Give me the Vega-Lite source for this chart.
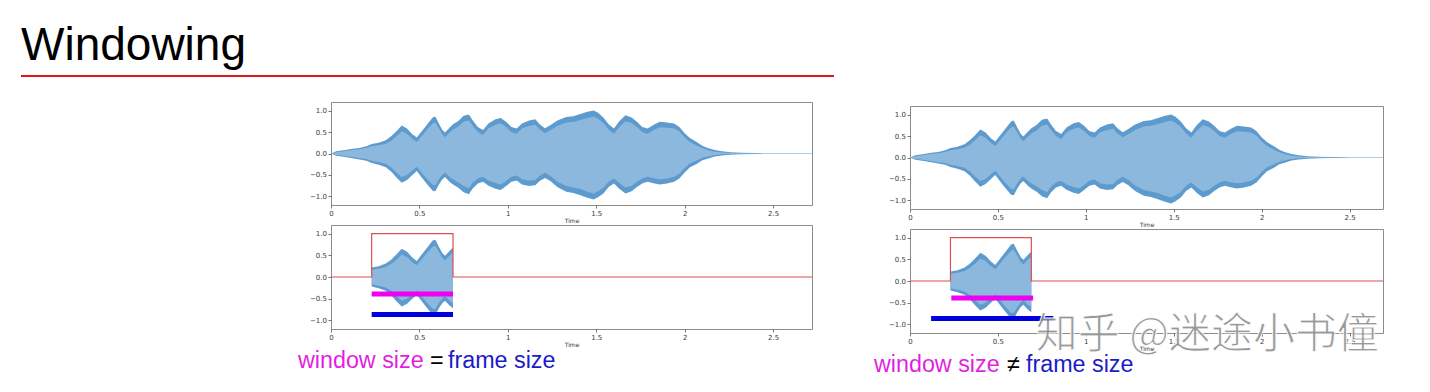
{
  "$schema": "https://vega.github.io/schema/vega-lite/v6.json",
  "padding": {"left": 20, "top": 16, "right": 10, "bottom": 5},
  "background": "white",
  "datasets": {
    "env": [
      {"t":0,"hi":0,"lo":0,"hi2":0,"lo2":0},
      {"t":0.03,"hi":0.05,"lo":-0.05,"hi2":0.03,"lo2":-0.03},
      {"t":0.08,"hi":0.08,"lo":-0.08,"hi2":0.06,"lo2":-0.06},
      {"t":0.12,"hi":0.11,"lo":-0.11,"hi2":0.08,"lo2":-0.08},
      {"t":0.16,"hi":0.13,"lo":-0.14,"hi2":0.10,"lo2":-0.11},
      {"t":0.20,"hi":0.17,"lo":-0.17,"hi2":0.13,"lo2":-0.13},
      {"t":0.23,"hi":0.22,"lo":-0.22,"hi2":0.17,"lo2":-0.17},
      {"t":0.27,"hi":0.25,"lo":-0.26,"hi2":0.19,"lo2":-0.20},
      {"t":0.31,"hi":0.31,"lo":-0.32,"hi2":0.23,"lo2":-0.24},
      {"t":0.34,"hi":0.40,"lo":-0.42,"hi2":0.30,"lo2":-0.32},
      {"t":0.37,"hi":0.52,"lo":-0.56,"hi2":0.40,"lo2":-0.44},
      {"t":0.40,"hi":0.65,"lo":-0.68,"hi2":0.52,"lo2":-0.55},
      {"t":0.43,"hi":0.58,"lo":-0.62,"hi2":0.46,"lo2":-0.50},
      {"t":0.46,"hi":0.45,"lo":-0.50,"hi2":0.34,"lo2":-0.39},
      {"t":0.485,"hi":0.37,"lo":-0.41,"hi2":0.27,"lo2":-0.31},
      {"t":0.51,"hi":0.50,"lo":-0.54,"hi2":0.39,"lo2":-0.43},
      {"t":0.54,"hi":0.66,"lo":-0.70,"hi2":0.54,"lo2":-0.58},
      {"t":0.575,"hi":0.84,"lo":-0.87,"hi2":0.70,"lo2":-0.73},
      {"t":0.59,"hi":0.86,"lo":-0.88,"hi2":0.72,"lo2":-0.74},
      {"t":0.61,"hi":0.70,"lo":-0.72,"hi2":0.58,"lo2":-0.60},
      {"t":0.63,"hi":0.55,"lo":-0.60,"hi2":0.44,"lo2":-0.49},
      {"t":0.645,"hi":0.49,"lo":-0.55,"hi2":0.38,"lo2":-0.44},
      {"t":0.67,"hi":0.60,"lo":-0.66,"hi2":0.49,"lo2":-0.55},
      {"t":0.69,"hi":0.68,"lo":-0.72,"hi2":0.56,"lo2":-0.60},
      {"t":0.72,"hi":0.76,"lo":-0.80,"hi2":0.63,"lo2":-0.67},
      {"t":0.75,"hi":0.88,"lo":-0.90,"hi2":0.74,"lo2":-0.76},
      {"t":0.78,"hi":0.91,"lo":-0.95,"hi2":0.77,"lo2":-0.81},
      {"t":0.80,"hi":0.78,"lo":-0.82,"hi2":0.65,"lo2":-0.69},
      {"t":0.83,"hi":0.62,"lo":-0.70,"hi2":0.50,"lo2":-0.58},
      {"t":0.86,"hi":0.55,"lo":-0.66,"hi2":0.43,"lo2":-0.54},
      {"t":0.89,"hi":0.70,"lo":-0.75,"hi2":0.58,"lo2":-0.63},
      {"t":0.93,"hi":0.80,"lo":-0.82,"hi2":0.67,"lo2":-0.69},
      {"t":0.96,"hi":0.83,"lo":-0.85,"hi2":0.70,"lo2":-0.72},
      {"t":0.99,"hi":0.74,"lo":-0.76,"hi2":0.62,"lo2":-0.64},
      {"t":1.02,"hi":0.62,"lo":-0.66,"hi2":0.50,"lo2":-0.54},
      {"t":1.05,"hi":0.58,"lo":-0.63,"hi2":0.46,"lo2":-0.51},
      {"t":1.08,"hi":0.70,"lo":-0.72,"hi2":0.58,"lo2":-0.60},
      {"t":1.12,"hi":0.77,"lo":-0.76,"hi2":0.64,"lo2":-0.63},
      {"t":1.155,"hi":0.80,"lo":-0.74,"hi2":0.67,"lo2":-0.62},
      {"t":1.18,"hi":0.68,"lo":-0.64,"hi2":0.56,"lo2":-0.52},
      {"t":1.21,"hi":0.59,"lo":-0.57,"hi2":0.47,"lo2":-0.45},
      {"t":1.24,"hi":0.66,"lo":-0.64,"hi2":0.54,"lo2":-0.52},
      {"t":1.28,"hi":0.77,"lo":-0.78,"hi2":0.64,"lo2":-0.65},
      {"t":1.33,"hi":0.85,"lo":-0.89,"hi2":0.72,"lo2":-0.76},
      {"t":1.37,"hi":0.87,"lo":-0.92,"hi2":0.74,"lo2":-0.79},
      {"t":1.41,"hi":0.92,"lo":-0.97,"hi2":0.78,"lo2":-0.83},
      {"t":1.45,"hi":0.97,"lo":-1.03,"hi2":0.83,"lo2":-0.89},
      {"t":1.485,"hi":1.00,"lo":-1.07,"hi2":0.86,"lo2":-0.93},
      {"t":1.51,"hi":0.95,"lo":-1.02,"hi2":0.81,"lo2":-0.88},
      {"t":1.54,"hi":0.84,"lo":-0.93,"hi2":0.71,"lo2":-0.80},
      {"t":1.57,"hi":0.68,"lo":-0.78,"hi2":0.56,"lo2":-0.66},
      {"t":1.60,"hi":0.58,"lo":-0.70,"hi2":0.46,"lo2":-0.58},
      {"t":1.63,"hi":0.75,"lo":-0.82,"hi2":0.62,"lo2":-0.69},
      {"t":1.665,"hi":0.89,"lo":-0.93,"hi2":0.75,"lo2":-0.79},
      {"t":1.70,"hi":0.84,"lo":-0.88,"hi2":0.71,"lo2":-0.75},
      {"t":1.73,"hi":0.74,"lo":-0.78,"hi2":0.62,"lo2":-0.66},
      {"t":1.76,"hi":0.62,"lo":-0.70,"hi2":0.50,"lo2":-0.58},
      {"t":1.79,"hi":0.58,"lo":-0.66,"hi2":0.46,"lo2":-0.54},
      {"t":1.83,"hi":0.68,"lo":-0.70,"hi2":0.56,"lo2":-0.58},
      {"t":1.86,"hi":0.74,"lo":-0.72,"hi2":0.61,"lo2":-0.60},
      {"t":1.90,"hi":0.72,"lo":-0.70,"hi2":0.60,"lo2":-0.58},
      {"t":1.94,"hi":0.70,"lo":-0.66,"hi2":0.58,"lo2":-0.54},
      {"t":1.97,"hi":0.62,"lo":-0.58,"hi2":0.51,"lo2":-0.47},
      {"t":2.00,"hi":0.47,"lo":-0.44,"hi2":0.37,"lo2":-0.34},
      {"t":2.03,"hi":0.36,"lo":-0.32,"hi2":0.27,"lo2":-0.23},
      {"t":2.07,"hi":0.26,"lo":-0.24,"hi2":0.18,"lo2":-0.16},
      {"t":2.10,"hi":0.18,"lo":-0.16,"hi2":0.12,"lo2":-0.10},
      {"t":2.13,"hi":0.13,"lo":-0.12,"hi2":0.08,"lo2":-0.07},
      {"t":2.17,"hi":0.08,"lo":-0.07,"hi2":0.04,"lo2":-0.035},
      {"t":2.21,"hi":0.05,"lo":-0.045,"hi2":0.025,"lo2":-0.02},
      {"t":2.26,"hi":0.03,"lo":-0.03,"hi2":0.012,"lo2":-0.012},
      {"t":2.32,"hi":0.018,"lo":-0.018,"hi2":0.006,"lo2":-0.006},
      {"t":2.40,"hi":0.01,"lo":-0.01,"hi2":0.003,"lo2":-0.003},
      {"t":2.50,"hi":0.006,"lo":-0.006,"hi2":0,"lo2":0},
      {"t":2.60,"hi":0.004,"lo":-0.004,"hi2":0,"lo2":0},
      {"t":2.72,"hi":0.003,"lo":-0.003,"hi2":0,"lo2":0}
    ],
    "win": [
      {"i":0,"t":0,"w":0},
      {"i":1,"t":0.23,"w":0},
      {"i":2,"t":0.23,"w":1},
      {"i":3,"t":0.69,"w":1},
      {"i":4,"t":0.69,"w":0},
      {"i":5,"t":2.72,"w":0}
    ],
    "barsL": [
      {"t":0.23,"t2":0.69,"v":-0.39,"kind":"window"},
      {"t":0.23,"t2":0.69,"v":-0.865,"kind":"frame"}
    ],
    "barsR": [
      {"t":0.235,"t2":0.70,"v":-0.395,"kind":"window"},
      {"t":0.12,"t2":0.815,"v":-0.865,"kind":"frame"}
    ]
  },
  "spacing": 24,
  "vconcat": [
    {
      "width": 813,
      "height": 60,
      "view": {"stroke": null},
      "layer": [
        {
          "data": {"values": [{"s": "Windowing"}]},
          "mark": {"type": "text", "align": "left", "baseline": "alphabetic", "dy": -16, "font": "Liberation Sans", "fontSize": 46, "color": "#000000"},
          "encoding": {
            "text": {"field": "s"},
            "x": {"datum": 0, "type": "quantitative", "scale": {"domain": [0, 1]}, "axis": null},
            "y": {"datum": 0, "type": "quantitative", "scale": {"domain": [0, 1]}, "axis": null}
          }
        },
        {
          "data": {"values": [{}]},
          "mark": {"type": "rule", "color": "#e0161e", "strokeWidth": 2},
          "encoding": {
            "x": {"datum": 0, "type": "quantitative"},
            "x2": {"datum": 1},
            "y": {"datum": 0, "type": "quantitative"}
          }
        }
      ]
    },
    {
      "spacing": 56,
      "hconcat": [
        {
          "width": 213,
          "height": 1,
          "view": {"stroke": null},
          "data": {"values": []},
          "mark": "rule",
          "encoding": {}
        },
        {
          "spacing": 0,
          "vconcat": [
            {
              "width": 481,
              "height": 103,
              "data": {"name": "env"},
              "layer": [
                {
                  "mark": {"type": "area", "color": "#5d9bcf"},
                  "encoding": {
                    "x": {"field": "t", "type": "quantitative", "scale": {"domain": [0, 2.72], "nice": false, "zero": false}, "axis": {"values": [0, 0.5, 1, 1.5, 2, 2.5], "tickCount": 12, "format": "~g", "title": "Time"}},
                    "y": {"field": "hi", "type": "quantitative", "scale": {"domain": [-1.2, 1.2], "nice": false, "zero": false}, "axis": {"values": [-1, -0.5, 0, 0.5, 1], "tickCount": 10, "format": ".1f", "title": null, "minExtent": 40}},
                    "y2": {"field": "lo"}
                  }
                },
                {
                  "mark": {"type": "area", "color": "#8bb8dc"},
                  "encoding": {
                    "x": {"field": "t", "type": "quantitative"},
                    "y": {"field": "hi2", "type": "quantitative"},
                    "y2": {"field": "lo2"}
                  }
                }
              ]
            },
            {
              "width": 481,
              "height": 104,
              "layer": [
                {
                  "data": {"name": "env"},
                  "transform": [{"filter": {"field": "t", "range": [0.23, 0.69]}}],
                  "mark": {"type": "area", "color": "#5d9bcf"},
                  "encoding": {
                    "x": {"field": "t", "type": "quantitative", "scale": {"domain": [0, 2.72], "nice": false, "zero": false}, "axis": {"values": [0, 0.5, 1, 1.5, 2, 2.5], "tickCount": 12, "format": "~g", "title": "Time"}},
                    "y": {"field": "hi", "type": "quantitative", "scale": {"domain": [-1.2, 1.2], "nice": false, "zero": false}, "axis": {"values": [-1, -0.5, 0, 0.5, 1], "tickCount": 10, "format": ".1f", "title": null, "minExtent": 40}},
                    "y2": {"field": "lo"}
                  }
                },
                {
                  "data": {"name": "env"},
                  "transform": [{"filter": {"field": "t", "range": [0.23, 0.69]}}],
                  "mark": {"type": "area", "color": "#8bb8dc"},
                  "encoding": {
                    "x": {"field": "t", "type": "quantitative"},
                    "y": {"field": "hi2", "type": "quantitative"},
                    "y2": {"field": "lo2"}
                  }
                },
                {
                  "data": {"name": "win"},
                  "mark": {"type": "line", "color": "#dc5050", "strokeWidth": 1.2, "clip": true},
                  "encoding": {
                    "x": {"field": "t", "type": "quantitative"},
                    "y": {"field": "w", "type": "quantitative"},
                    "order": {"field": "i", "type": "quantitative"}
                  }
                },
                {
                  "data": {"name": "barsL"},
                  "mark": {"type": "rule", "strokeWidth": 5},
                  "encoding": {
                    "x": {"field": "t", "type": "quantitative"},
                    "x2": {"field": "t2"},
                    "y": {"field": "v", "type": "quantitative"},
                    "color": {"field": "kind", "type": "nominal", "scale": {"domain": ["window", "frame"], "range": ["#f000f0", "#0000dc"]}, "legend": null}
                  }
                },
                {
                  "data": {"values": [{"s": "window size"}]},
                  "mark": {"type": "text", "align": "left", "baseline": "alphabetic", "dx": -33, "dy": 39, "font": "Liberation Sans", "fontSize": 23.3, "color": "#e11fe1"},
                  "encoding": {"text": {"field": "s"}, "x": {"datum": 0}, "y": {"datum": -1.2}}
                },
                {
                  "data": {"values": [{"s": "="}]},
                  "mark": {"type": "text", "align": "left", "baseline": "alphabetic", "dx": 99, "dy": 39, "font": "Liberation Sans", "fontSize": 23.3, "color": "#000000"},
                  "encoding": {"text": {"field": "s"}, "x": {"datum": 0}, "y": {"datum": -1.2}}
                },
                {
                  "data": {"values": [{"s": "frame size"}]},
                  "mark": {"type": "text", "align": "left", "baseline": "alphabetic", "dx": 117, "dy": 39, "font": "Liberation Sans", "fontSize": 23.3, "color": "#1b1bc7"},
                  "encoding": {"text": {"field": "s"}, "x": {"datum": 0}, "y": {"datum": -1.2}}
                }
              ]
            }
          ]
        },
        {
          "spacing": 0,
          "vconcat": [
            {
              "width": 1,
              "height": 3,
              "view": {"stroke": null},
              "data": {"values": []},
              "mark": "rule",
              "encoding": {}
            },
            {
              "width": 473,
              "height": 103,
              "data": {"name": "env"},
              "layer": [
                {
                  "mark": {"type": "area", "color": "#5d9bcf", "clip": true},
                  "encoding": {
                    "x": {"field": "t", "type": "quantitative", "scale": {"domain": [0, 2.69], "nice": false, "zero": false}, "axis": {"values": [0, 0.5, 1, 1.5, 2, 2.5], "tickCount": 12, "format": "~g", "title": "Time"}},
                    "y": {"field": "hi", "type": "quantitative", "scale": {"domain": [-1.2, 1.2], "nice": false, "zero": false}, "axis": {"values": [-1, -0.5, 0, 0.5, 1], "tickCount": 10, "format": ".1f", "title": null, "minExtent": 40}},
                    "y2": {"field": "lo"}
                  }
                },
                {
                  "mark": {"type": "area", "color": "#8bb8dc", "clip": true},
                  "encoding": {
                    "x": {"field": "t", "type": "quantitative"},
                    "y": {"field": "hi2", "type": "quantitative"},
                    "y2": {"field": "lo2"}
                  }
                }
              ]
            },
            {
              "width": 473,
              "height": 104,
              "layer": [
                {
                  "data": {"name": "env"},
                  "transform": [{"filter": {"field": "t", "range": [0.23, 0.69]}}],
                  "mark": {"type": "area", "color": "#5d9bcf"},
                  "encoding": {
                    "x": {"field": "t", "type": "quantitative", "scale": {"domain": [0, 2.69], "nice": false, "zero": false}, "axis": {"values": [0, 0.5, 1, 1.5, 2, 2.5], "tickCount": 12, "format": "~g", "title": "Time"}},
                    "y": {"field": "hi", "type": "quantitative", "scale": {"domain": [-1.2, 1.2], "nice": false, "zero": false}, "axis": {"values": [-1, -0.5, 0, 0.5, 1], "tickCount": 10, "format": ".1f", "title": null, "minExtent": 40}},
                    "y2": {"field": "lo"}
                  }
                },
                {
                  "data": {"name": "env"},
                  "transform": [{"filter": {"field": "t", "range": [0.23, 0.69]}}],
                  "mark": {"type": "area", "color": "#8bb8dc"},
                  "encoding": {
                    "x": {"field": "t", "type": "quantitative"},
                    "y": {"field": "hi2", "type": "quantitative"},
                    "y2": {"field": "lo2"}
                  }
                },
                {
                  "data": {"name": "win"},
                  "mark": {"type": "line", "color": "#dc5050", "strokeWidth": 1.2, "clip": true},
                  "encoding": {
                    "x": {"field": "t", "type": "quantitative"},
                    "y": {"field": "w", "type": "quantitative"},
                    "order": {"field": "i", "type": "quantitative"}
                  }
                },
                {
                  "data": {"name": "barsR"},
                  "mark": {"type": "rule", "strokeWidth": 5},
                  "encoding": {
                    "x": {"field": "t", "type": "quantitative"},
                    "x2": {"field": "t2"},
                    "y": {"field": "v", "type": "quantitative"},
                    "color": {"field": "kind", "type": "nominal", "scale": {"domain": ["window", "frame"], "range": ["#f000f0", "#0000dc"]}, "legend": null}
                  }
                },
                {
                  "data": {"values": [{"s": "window size"}]},
                  "mark": {"type": "text", "align": "left", "baseline": "alphabetic", "dx": -36, "dy": 39, "font": "Liberation Sans", "fontSize": 23.3, "color": "#e11fe1"},
                  "encoding": {"text": {"field": "s"}, "x": {"datum": 0}, "y": {"datum": -1.2}}
                },
                {
                  "data": {"values": [{"s": "≠"}]},
                  "mark": {"type": "text", "align": "left", "baseline": "alphabetic", "dx": 97, "dy": 39, "font": "Liberation Sans", "fontSize": 23.3, "color": "#000000"},
                  "encoding": {"text": {"field": "s"}, "x": {"datum": 0}, "y": {"datum": -1.2}}
                },
                {
                  "data": {"values": [{"s": "frame size"}]},
                  "mark": {"type": "text", "align": "left", "baseline": "alphabetic", "dx": 116, "dy": 39, "font": "Liberation Sans", "fontSize": 23.3, "color": "#1b1bc7"},
                  "encoding": {"text": {"field": "s"}, "x": {"datum": 0}, "y": {"datum": -1.2}}
                },
                {
                  "data": {"values": [{"s": "知乎 @迷途小书僮"}]},
                  "mark": {"type": "text", "align": "right", "baseline": "middle", "dx": -4, "dy": 2, "font": "Noto Sans CJK SC", "fontSize": 42, "color": "#8f8f8f", "opacity": 0.9, "stroke": "#ffffff", "strokeWidth": 1},
                  "encoding": {"text": {"field": "s"}, "x": {"datum": 2.69}, "y": {"datum": -1.2}}
                }
              ]
            }
          ]
        }
      ]
    }
  ],
  "config": {
    "view": {"stroke": "#8c8c8c", "strokeWidth": 1},
    "axis": {
      "domain": false,
      "grid": false,
      "labelFont": "DejaVu Sans",
      "labelFontSize": 7,
      "labelColor": "#3a3a3a",
      "labelFlush": false,
      "labelOverlap": false,
      "labelBound": false,
      "tickColor": "#555555",
      "tickSize": 3,
      "tickWidth": 0.8,
      "labelPadding": 1.5,
      "titleFont": "DejaVu Sans",
      "titleFontSize": 6,
      "titleFontWeight": "normal",
      "titleColor": "#333333",
      "titlePadding": 1
    }
  }
}
